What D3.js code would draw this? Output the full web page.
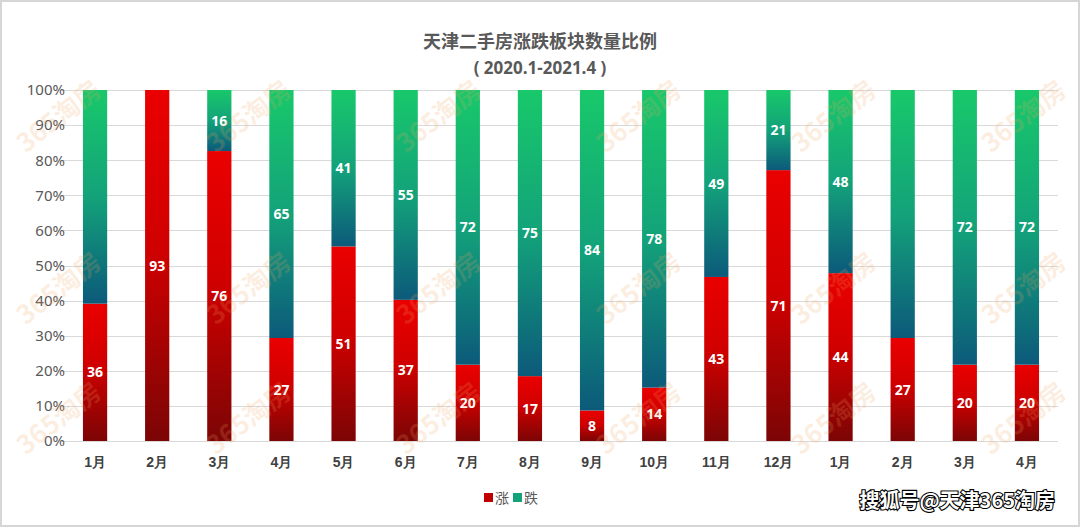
<!DOCTYPE html>
<html lang="zh">
<head>
<meta charset="utf-8">
<title>天津二手房涨跌板块数量比例</title>
<script src="https://d3js.org/d3.v7.min.js"></script>
<style>
  body { margin: 0; background: #fff; }
  svg { display: block; font-family: "Noto Sans CJK SC", "Noto Sans", sans-serif; }
</style>
</head>
<body>
<script>
// data
var months = ["1月", "2月", "3月", "4月", "5月", "6月", "7月", "8月", "9月", "10月", "11月", "12月", "1月", "2月", "3月", "4月"];
var rise = [36, 93, 76, 27, 51, 37, 20, 17, 8, 14, 43, 71, 44, 27, 20, 20];
var fall = [56, 0, 16, 65, 41, 55, 72, 75, 84, 78, 49, 21, 48, 65, 72, 72];
// the picture shows no label on these falling segments
var hideFallLabel = [0, 13];
var yTicks = [0, 0.1, 0.2, 0.3, 0.4, 0.5, 0.6, 0.7, 0.8, 0.9, 1];

var width = 1080, height = 527;
var margin = {top: 90, right: 22, bottom: 86, left: 64};

var svg = d3.select("body").append("svg")
    .attr("width", width)
    .attr("height", height);

// gradients
var defs = svg.append("defs");
var gRed = defs.append("linearGradient").attr("id", "gRed")
    .attr("x1", 0).attr("y1", 0).attr("x2", 0).attr("y2", 1);
gRed.append("stop").attr("offset", "0%").attr("stop-color", "#ea0000");
gRed.append("stop").attr("offset", "45%").attr("stop-color", "#d00000");
gRed.append("stop").attr("offset", "100%").attr("stop-color", "#7c0505");
var gGreen = defs.append("linearGradient").attr("id", "gGreen")
    .attr("x1", 0).attr("y1", 0).attr("x2", 0).attr("y2", 1);
gGreen.append("stop").attr("offset", "0%").attr("stop-color", "#18c86a");
gGreen.append("stop").attr("offset", "50%").attr("stop-color", "#13a27a");
gGreen.append("stop").attr("offset", "100%").attr("stop-color", "#0c5a7a");

// frame
svg.append("rect")
    .attr("x", 0.5).attr("y", 0.5)
    .attr("width", width - 1).attr("height", height - 1)
    .attr("fill", "#fff").attr("stroke", "#d6d6d6").attr("stroke-width", 3);

var x = d3.scaleBand()
    .domain(d3.range(months.length))
    .range([margin.left, width - margin.right])
    .paddingInner(0.61)
    .paddingOuter(0.305);

var y = d3.scaleLinear()
    .domain([0, 1])
    .range([height - margin.bottom, margin.top]);

// gridlines
svg.append("g")
    .selectAll("line")
    .data(yTicks)
    .enter().append("line")
    .attr("x1", margin.left - 2)
    .attr("x2", width - margin.right)
    .attr("y1", function(d) { return Math.round(y(d)) + 0.5; })
    .attr("y2", function(d) { return Math.round(y(d)) + 0.5; })
    .attr("stroke", "#d9d9d9")
    .attr("stroke-width", 1);

// y axis labels
var yAxis = d3.axisLeft(y)
    .tickValues(yTicks)
    .tickFormat(d3.format(".0%"))
    .tickSize(0)
    .tickPadding(0);
var yg = svg.append("g")
    .attr("transform", "translate(" + (margin.left + 1) + ",0)")
    .call(yAxis);
yg.select(".domain").remove();
yg.selectAll("text")
    .attr("fill", "#595959")
    .style("font-size", "15px")
    .style("font-family", "'Noto Sans', sans-serif");

// x axis labels
var xAxis = d3.axisBottom(x)
    .tickFormat(function(i) { return months[i]; })
    .tickSize(0)
    .tickPadding(16);
var xg = svg.append("g")
    .attr("transform", "translate(0," + (height - margin.bottom) + ")")
    .call(xAxis);
xg.select(".domain").remove();
xg.selectAll("text")
    .attr("fill", "#404040")
    .style("font-size", "14px")
    .style("font-weight", "bold");

// bars
var rows = months.map(function(m, i) {
  var t = rise[i] + fall[i];
  return {i: i, r: rise[i] / t, f: fall[i] / t, rv: rise[i], fv: fall[i]};
});

var bars = svg.append("g").selectAll("g")
    .data(rows)
    .enter().append("g");

bars.filter(function(d) { return d.rv > 0; }).append("rect")
    .attr("x", function(d) { return x(d.i); })
    .attr("width", x.bandwidth())
    .attr("y", function(d) { return y(d.r); })
    .attr("height", function(d) { return y(0) - y(d.r); })
    .attr("fill", "url(#gRed)");

bars.filter(function(d) { return d.fv > 0; }).append("rect")
    .attr("x", function(d) { return x(d.i); })
    .attr("width", x.bandwidth())
    .attr("y", function(d) { return y(1); })
    .attr("height", function(d) { return y(d.r) - y(1); })
    .attr("fill", "url(#gGreen)");

// watermarks (365淘房)
var wmX = [60, 250, 440, 640, 835, 1025];
var wmY = [118, 290, 420];
var wm = svg.append("g").attr("pointer-events", "none");
wmX.forEach(function(wx) {
  wmY.forEach(function(wy) {
    wm.append("text")
      .attr("transform", "translate(" + wx + "," + wy + ") rotate(-38)")
      .attr("text-anchor", "middle")
      .attr("dominant-baseline", "middle")
      .attr("fill", "#f4a460")
      .attr("fill-opacity", 0.2)
      .style("font-size", "26px")
      .style("font-weight", "bold")
      .text("365淘房");
  });
});

// value labels
bars.filter(function(d) { return d.rv > 0; }).append("text")
    .attr("x", function(d) { return x(d.i) + x.bandwidth() / 2; })
    .attr("y", function(d) { return y(d.r / 2); })
    .attr("dy", "0.36em")
    .attr("text-anchor", "middle")
    .attr("fill", "#fff")
    .style("font-size", "14px")
    .style("font-weight", "bold")
    .style("font-family", "'Open Sans', sans-serif")
    .text(function(d) { return d.rv; });

bars.filter(function(d) { return d.fv > 0 && hideFallLabel.indexOf(d.i) < 0; }).append("text")
    .attr("x", function(d) { return x(d.i) + x.bandwidth() / 2; })
    .attr("y", function(d) { return y(d.r + d.f / 2); })
    .attr("dy", "0.36em")
    .attr("text-anchor", "middle")
    .attr("fill", "#fff")
    .style("font-size", "14px")
    .style("font-weight", "bold")
    .style("font-family", "'Open Sans', sans-serif")
    .text(function(d) { return d.fv; });

// title
svg.append("text")
    .attr("x", 540).attr("y", 48)
    .attr("text-anchor", "middle")
    .attr("fill", "#595959")
    .style("font-size", "18px")
    .style("font-weight", "bold")
    .text("天津二手房涨跌板块数量比例");
svg.append("text")
    .attr("x", 540).attr("y", 74)
    .attr("text-anchor", "middle")
    .attr("fill", "#595959")
    .style("font-size", "17px")
    .style("font-weight", "bold")
    .style("font-family", "'Open Sans', sans-serif")
    .text("( 2020.1-2021.4 )");

// legend
var legend = svg.append("g").attr("transform", "translate(484,498)");
legend.append("rect").attr("x", 0).attr("y", -5).attr("width", 9).attr("height", 9).attr("fill", "#c00000");
legend.append("text").attr("x", 11).attr("y", 0).attr("dy", "0.36em")
    .attr("fill", "#595959").style("font-size", "14px").text("涨");
legend.append("rect").attr("x", 29).attr("y", -5).attr("width", 9).attr("height", 9).attr("fill", "#13a27a");
legend.append("text").attr("x", 40).attr("y", 0).attr("dy", "0.36em")
    .attr("fill", "#595959").style("font-size", "14px").text("跌");

// source mark
svg.append("text")
    .attr("x", 1055).attr("y", 508)
    .attr("text-anchor", "end")
    .attr("fill", "#fff")
    .attr("stroke", "#000")
    .attr("stroke-width", 2.2)
    .attr("paint-order", "stroke")
    .style("font-size", "20px")
    .style("font-weight", "bold")
    .text("搜狐号@天津365淘房");
</script>
</body>
</html>
